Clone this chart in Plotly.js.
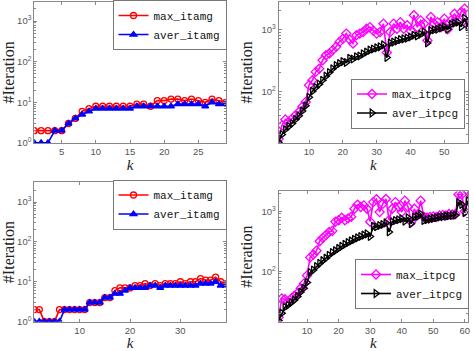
<!DOCTYPE html>
<html>
<head>
<meta charset="utf-8">
<script src="https://cdn.plot.ly/plotly-3.0.1.min.js"></script>
<style>html,body{margin:0;padding:0;background:#fff;}#chart{width:474px;height:351px;}</style>
</head>
<body>
<div id="chart"></div>
<script>
// ---- Data ----
const k1 = Array.from({length: 29}, (_, i) => i + 1);
const maxItamg1  = [2,2,2,2,2,3,4,6,7,8,8,8,8,8,8,9,9,8,11,11,12,12,11,12,11,10,12,11,10];
const averItamg1 = [1,1,1,2,2,3,4,5,6,7,7,7,7,7,7,8,8,8,8,8,8,9,9,9,9,8,10,9,9];

const k2 = Array.from({length: 57}, (_, i) => i + 1);
const maxItpcg2  = [17,28,35,32,36,41,46,56,67,125,150,205,230,316,380,405,460,520,625,700,
                    850,680,590,800,850,900,1020,1080,950,850,900,1230,420,900,1230,1020,1300,1020,1160,950,
                    1680,1080,1390,1230,660,1580,1230,1300,1080,1480,1000,1390,1780,1390,1900,2150,1160];
const averItpcg2 = [15,20,24,27,30,35,40,48,58,80,100,115,130,150,175,200,230,260,280,300,
                    290,340,330,360,370,400,430,460,480,500,520,560,350,600,620,650,680,700,720,750,
                    800,780,830,900,600,950,980,1000,1050,1100,1000,1200,1250,1300,1100,1500,1100];

const k3 = Array.from({length: 39}, (_, i) => i + 1);
const maxItamg3  = [2,2,1,1,1,2,2,2,2,2,2,3,3,3,4,4,6,7,7,7,8,8,9,8,9,8,9,9,9,10,9,10,10,12,11,11,13,10,9];
const averItamg3 = [1,1,1,1,1,1,2,2,2,2,2,3,3,3,4,4,5,5,6,7,7,7,7,8,8,7,8,8,8,8,8,8,8,9,9,9,10,8,8];

const k4 = Array.from({length: 61}, (_, i) => i + 1);
const maxItpcg4  = [17,35,34,31,35,39,43,52,62,85,170,190,220,316,360,400,450,470,670,710,
                    780,710,760,810,1100,1280,1180,1250,1100,670,1420,1580,970,1330,1600,710,1100,1420,1180,970,
                    1500,1180,670,1100,860,1500,810,780,800,820,800,850,870,850,900,880,900,1900,1900,1000,2200];
const averItpcg4 = [15,20,25,27,30,33,38,45,52,65,95,105,120,135,150,165,185,205,220,240,
                    260,280,300,320,340,360,380,400,420,380,560,550,580,600,640,450,660,700,720,750,
                    680,780,620,800,820,900,700,720,740,760,780,800,810,830,840,850,860,1400,1300,950,1500];

const names = ['max_itamg','aver_itamg','max_itpcg','aver_itpcg'];

// ---- Styles ----
const red = 'rgb(255,0,0)', blue = 'rgb(0,0,255)', mag = 'rgb(255,0,255)', blk = 'rgb(0,0,0)';
function tr(x, y, name, color, symbol, xa, ya, leg, msize) {
  return {x: x, y: y, name: name, type: 'scatter', mode: 'lines+markers',
    xaxis: xa, yaxis: ya, legend: leg,
    line: {color: color, width: 1.6},
    marker: {symbol: symbol, size: msize || 6, color: color, line: {color: color, width: 1.3}}};
}
const data = [
  tr(k1, maxItamg1, names[0], red, 'circle-open', 'x', 'y', 'legend'),
  tr(k1, averItamg1, names[1], blue, 'triangle-up', 'x', 'y', 'legend'),
  tr(k2, maxItpcg2, names[2], mag, 'diamond-open', 'x2', 'y2', 'legend2', 7),
  tr(k2, averItpcg2, names[3], blk, 'triangle-right-open', 'x2', 'y2', 'legend2', 7),
  tr(k3, maxItamg3, names[0], red, 'circle-open', 'x3', 'y3', 'legend3'),
  tr(k3, averItamg3, names[1], blue, 'triangle-up', 'x3', 'y3', 'legend3'),
  tr(k4, maxItpcg4, names[2], mag, 'diamond-open', 'x4', 'y4', 'legend4', 7),
  tr(k4, averItpcg4, names[3], blk, 'triangle-right-open', 'x4', 'y4', 'legend4', 7)
];

const W = 474, H = 351;
const tickFont = {family: 'Liberation Sans, Arial, sans-serif', size: 9.5, color: '#555'};
const axColor = '#888';
const minorVals = [];
for (let d = 1; d <= 1000; d *= 10) for (let m = 2; m <= 9; m++) minorVals.push(m * d);

function xax(dom, range, tickvals, anchor) {
  return {domain: dom, range: range, anchor: anchor, tickvals: tickvals, ticktext: tickvals.map(String),
    ticks: 'inside', ticklen: 3, tickcolor: axColor, mirror: 'ticks', showline: true, linecolor: axColor, linewidth: 1,
    showgrid: false, zeroline: false, tickfont: tickFont,
    title: {text: 'k', font: {family: 'Liberation Serif, Times New Roman, serif', size: 15, color: '#222', style: 'italic'}, standoff: 0}};
}
function yax(dom, range, tickvals, anchor) {
  return {domain: dom, type: 'log', range: range, anchor: anchor, tickvals: tickvals,
    ticktext: tickvals.map(v => '10<sup>' + Math.round(Math.log10(v)) + '</sup>'),
    ticks: 'inside', ticklen: 3, tickcolor: axColor, mirror: 'ticks', showline: true, linecolor: axColor, linewidth: 1,
    showgrid: false, zeroline: false, tickfont: tickFont,
    minor: {tickmode: 'array', tickvals: minorVals, ticks: 'inside', ticklen: 2, tickcolor: axColor, showgrid: false},
    title: {text: '#Iteration', font: {family: 'Liberation Serif, Times New Roman, serif', size: 16, color: '#222'}, standoff: 4}};
}
const legFont = {family: 'Liberation Mono, DejaVu Sans Mono, monospace', size: 11, color: '#111'};
function leg(cx, cy) {
  return {x: cx / W, y: 1 - cy / H, xanchor: 'center', yanchor: 'middle', xref: 'paper', yref: 'paper',
    bgcolor: '#fff', bordercolor: '#777', borderwidth: 1, font: legFont, itemwidth: 30, tracegroupgap: 0};
}

const layout = {
  width: W, height: H, margin: {l: 0, r: 0, t: 0, b: 0},
  paper_bgcolor: '#fff', plot_bgcolor: '#fff', showlegend: true,
  xaxis:  xax([34.3/W, 225.7/W], [1, 29], [5,10,15,20,25], 'y'),
  yaxis:  yax([1-142.3/H, 1-1/H], [0, 3.47], [1,10,100,1000], 'x'),
  xaxis2: xax([278.6/W, 468/W], [1, 57], [10,20,30,40,50], 'y2'),
  yaxis2: yax([1-142.3/H, 1-1/H], [1.165, 3.44], [100,1000], 'x2'),
  xaxis3: xax([34.3/W, 225.7/W], [1, 39], [10,20,30], 'y3'),
  yaxis3: yax([1-321.5/H, 1-182/H], [0, 3.49], [1,10,100,1000], 'x3'),
  xaxis4: xax([278.6/W, 468/W], [1, 61], [10,20,30,40,50,60], 'y4'),
  yaxis4: yax([1-321.5/H, 1-191/H], [1.16, 3.33], [100,1000], 'x4'),
  legend:  leg(169.5, 24.5),
  legend2: leg(408, 103.5),
  legend3: leg(169.5, 204.5),
  legend4: leg(412, 284)
};

Plotly.newPlot('chart', data, layout, {displayModeBar: false, staticPlot: true});
</script>
</body>
</html>
